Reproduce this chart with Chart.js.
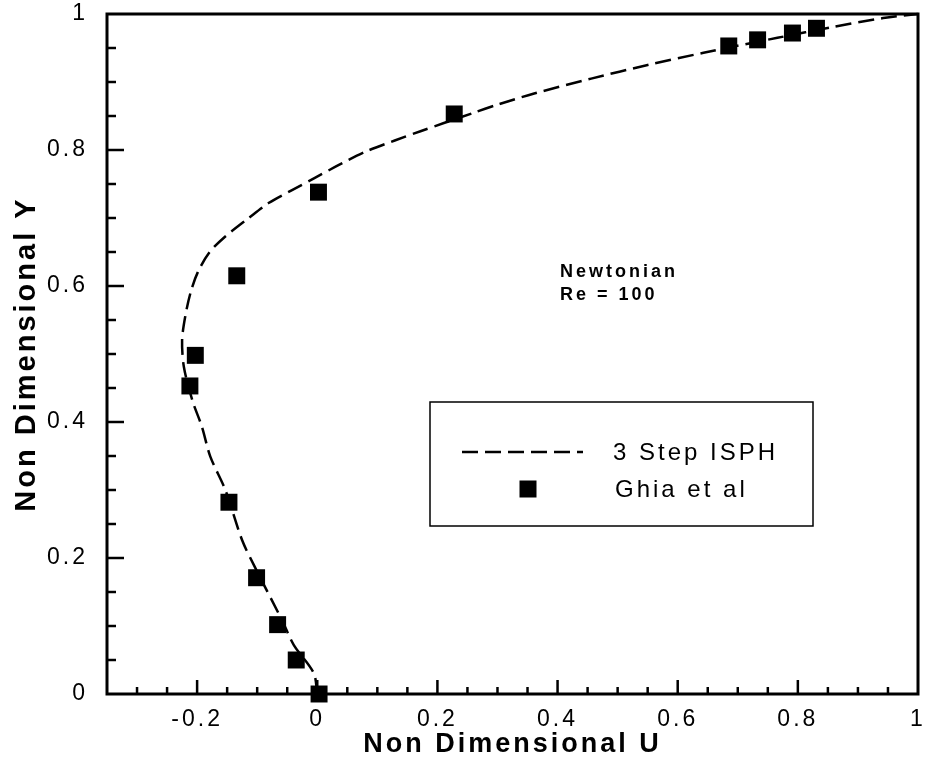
<!DOCTYPE html>
<html>
<head>
<meta charset="utf-8">
<script src="https://cdn.jsdelivr.net/npm/chart.js@4.4.0/dist/chart.umd.min.js"></script>
<style>
html,body{margin:0;padding:0;background:#fff;}
#wrap{width:936px;height:761px;position:relative;}
</style>
</head>
<body>
<div id="wrap"><canvas id="c"></canvas></div>
<script>
// ---- data ----
const isphU = [0.000, -0.006, -0.039, -0.059, -0.104, -0.125, -0.153, -0.178, -0.192, -0.208, -0.222, -0.225, -0.220, -0.211, -0.199, -0.180, -0.154, -0.114, -0.081, -0.042, -0.004, 0.036, 0.079, 0.129, 0.173, 0.212, 0.258, 0.301, 0.361, 0.456, 0.550, 0.643, 0.766, 0.859, 0.942, 1.000];
const isphY = [0.000, 0.031, 0.072, 0.109, 0.187, 0.226, 0.300, 0.349, 0.393, 0.432, 0.481, 0.520, 0.554, 0.590, 0.620, 0.649, 0.672, 0.700, 0.722, 0.741, 0.759, 0.778, 0.797, 0.814, 0.828, 0.840, 0.854, 0.867, 0.883, 0.905, 0.925, 0.943, 0.965, 0.981, 0.994, 1.000];
const ghiaU = [0.831, 0.791, 0.733, 0.685, 0.228, 0.002, -0.134, -0.203, -0.212, -0.147, -0.101, -0.066, -0.035, 0.003];
const ghiaY = [0.979, 0.972, 0.962, 0.953, 0.853, 0.738, 0.615, 0.498, 0.453, 0.282, 0.171, 0.102, 0.050, 0.000];
const seriesNames = ['3 Step ISPH', 'Ghia et al'];
const xTickValues = [-0.2, 0, 0.2, 0.4, 0.6, 0.8, 1];
const xTickLabels = ['-0.2', '0', '0.2', '0.4', '0.6', '0.8', '1'];
const yTickValues = [0, 0.2, 0.4, 0.6, 0.8, 1];
const yTickLabels = ['0', '0.2', '0.4', '0.6', '0.8', '1'];
const xTitle = 'Non Dimensional U';
const yTitle = 'Non Dimensional Y';
const noteLines = ['Newtonian', 'Re = 100'];

// ---- helpers ----
const FONT = "'Liberation Sans', Arial, sans-serif";
function labelFor(values, labels, v) {
  const i = values.findIndex(t => Math.abs(t - v) < 1e-9);
  return i >= 0 ? labels[i] : '';
}

const framePlugin = {
  id: 'frame',
  beforeDraw(chart) {
    chart.ctx.letterSpacing = '3px';
  },
  beforeDatasetsDraw(chart) {
    const {ctx, chartArea: a, scales: {x, y}} = chart;
    ctx.save();
    ctx.strokeStyle = '#000';
    ctx.lineCap = 'butt';
    ctx.lineWidth = 2.5;
    const step = 0.05;
    // x ticks (inward)
    for (let k = Math.ceil(x.min / step - 1e-9); k * step <= x.max + 1e-9; k++) {
      const v = k * step;
      const px = x.getPixelForValue(v);
      if (px <= a.left + 2 || px >= a.right - 2) continue;
      const major = xTickValues.some(t => Math.abs(t - v) < 1e-6);
      const len = major ? 14 : 7;
      ctx.beginPath(); ctx.moveTo(px, a.bottom); ctx.lineTo(px, a.bottom - len); ctx.stroke();
    }
    // y ticks (inward)
    for (let k = Math.ceil(y.min / step - 1e-9); k * step <= y.max + 1e-9; k++) {
      const v = k * step;
      const py = y.getPixelForValue(v);
      if (py >= a.bottom - 2 || py <= a.top + 2) continue;
      const major = yTickValues.some(t => Math.abs(t - v) < 1e-6);
      const len = major ? 17 : 9;
      ctx.beginPath(); ctx.moveTo(a.left, py); ctx.lineTo(a.left + len, py); ctx.stroke();
    }
    ctx.lineWidth = 3;
    ctx.strokeRect(a.left, a.top, a.right - a.left, a.bottom - a.top);
    ctx.restore();
  },
  afterDatasetsDraw(chart) {
    const {ctx, chartArea: a} = chart;
    const lineDs = chart.data.datasets[1];
    const ptDs = chart.data.datasets[0];
    ctx.save();
    ctx.letterSpacing = '3px';
    // annotation
    ctx.fillStyle = '#000';
    ctx.font = "bold 18px " + FONT;
    ctx.textAlign = 'left';
    ctx.textBaseline = 'middle';
    ctx.fillText(noteLines[0], a.left + 453, a.top + 258);
    ctx.fillText(noteLines[1], a.left + 453, a.top + 281);
    // legend box
    const bx = a.left + 323, by = a.top + 388, bw = 383, bh = 124;
    ctx.lineWidth = 1.5;
    ctx.strokeStyle = '#000';
    ctx.strokeRect(bx, by, bw, bh);
    // line sample
    ctx.lineWidth = lineDs.borderWidth;
    ctx.setLineDash(lineDs.borderDash);
    ctx.beginPath();
    ctx.moveTo(bx + 32, by + 50);
    ctx.lineTo(bx + 153, by + 50);
    ctx.stroke();
    ctx.setLineDash([]);
    // square sample
    ctx.fillStyle = ptDs.backgroundColor;
    ctx.fillRect(bx + 98 - 8.5, by + 87 - 8.5, 17, 17);
    ctx.fillStyle = '#000';
    ctx.font = "24px " + FONT;
    ctx.fillText(lineDs.label, bx + 183, by + 51);
    ctx.fillText(ptDs.label, bx + 185, by + 88);
    ctx.restore();
  }
};

new Chart(document.getElementById('c'), {
  type: 'scatter',
  data: {
    datasets: [
      {
        label: seriesNames[1],
        data: ghiaU.map((u, i) => ({x: u, y: ghiaY[i]})),
        showLine: false,
        pointStyle: 'rect',
        pointRadius: 12,
        pointHoverRadius: 12,
        backgroundColor: '#000',
        borderColor: '#000',
        borderWidth: 0,
        clip: false
      },
      {
        label: seriesNames[0],
        data: isphU.map((u, i) => ({x: u, y: isphY[i]})),
        showLine: true,
        pointRadius: 0,
        pointHoverRadius: 0,
        borderColor: '#000',
        borderWidth: 2.5,
        borderDash: [16, 7],
        tension: 0.3,
        fill: false,
        clip: false
      }
    ]
  },
  options: {
    responsive: true,
    maintainAspectRatio: false,
    animation: false,
    events: [],
    layout: {padding: {top: 14, right: 18, left: 0, bottom: 0}},
    plugins: {legend: {display: false}, tooltip: {enabled: false}},
    scales: {
      x: {
        type: 'linear',
        min: -0.35,
        max: 1,
        afterBuildTicks: s => { s.ticks = xTickValues.map(v => ({value: v})); },
        afterFit: s => { s.height = 67; s.paddingLeft = 0; s.paddingRight = 0; },
        grid: {display: false},
        border: {display: false},
        ticks: {
          padding: 4,
          autoSkip: false,
          maxRotation: 0,
          color: '#000',
          font: {family: FONT, size: 23},
          callback: v => labelFor(xTickValues, xTickLabels, v)
        },
        title: {
          display: true,
          text: xTitle,
          color: '#000',
          font: {family: FONT, size: 27, weight: 'bold'},
          padding: {top: 5, bottom: 0}
        }
      },
      y: {
        type: 'linear',
        min: 0,
        max: 1,
        afterBuildTicks: s => { s.ticks = yTickValues.map(v => ({value: v})); },
        afterFit: s => { s.width = 107; s.paddingTop = 0; s.paddingBottom = 0; },
        grid: {display: false},
        border: {display: false},
        ticks: {
          padding: 11,
          autoSkip: false,
          color: '#000',
          font: {family: FONT, size: 23},
          callback: v => labelFor(yTickValues, yTickLabels, v)
        },
        title: {
          display: true,
          text: yTitle,
          color: '#000',
          font: {family: FONT, size: 29, weight: 'bold'},
          padding: {top: 10, bottom: 0}
        }
      }
    }
  },
  plugins: [framePlugin]
});
</script>
</body>
</html>
